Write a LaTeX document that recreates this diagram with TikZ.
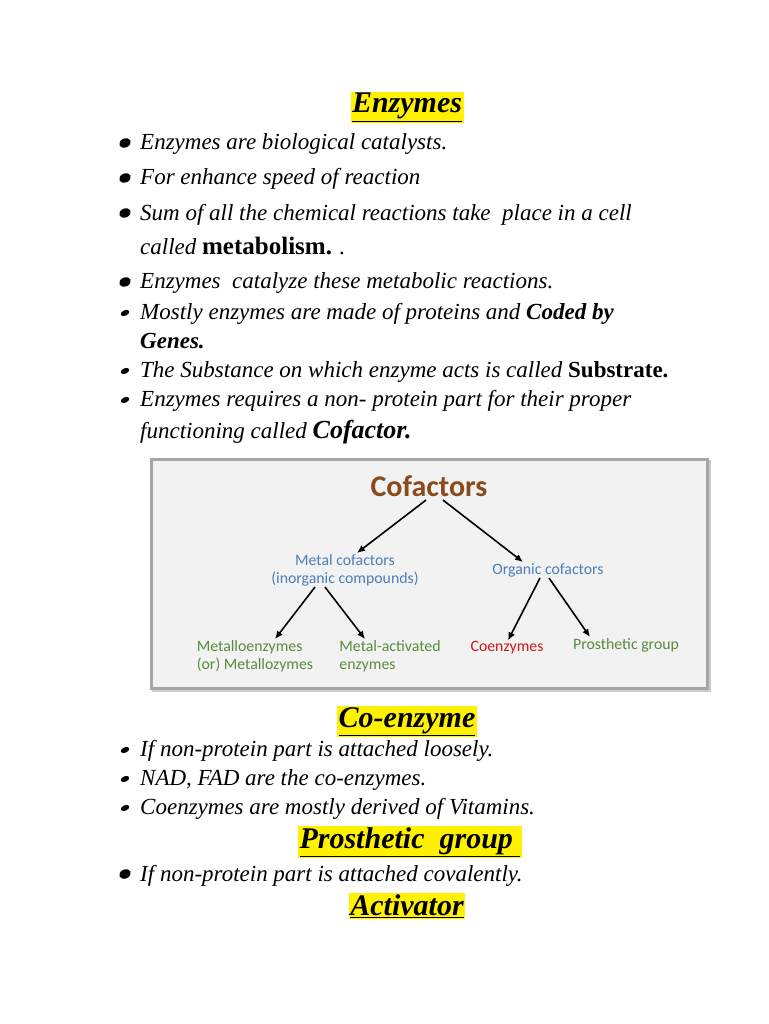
\documentclass[tikz,border=0pt]{standalone}
\usepackage{fontspec}
\setmainfont{Liberation Serif}
\newfontfamily\carlfont{Carlito}
\usetikzlibrary{arrows.meta}
\definecolor{boxbg}{HTML}{F2F2F2}
\definecolor{cofbrown}{HTML}{8B4A1C}
\definecolor{cofblue}{HTML}{4A7EBB}
\definecolor{cofgreen}{HTML}{5A8A3C}
\definecolor{cofred}{HTML}{D01818}
\begin{document}
\begin{tikzpicture}[x=1pt,y=-1pt,
  txt/.style={anchor=base west,inner sep=0pt,font=\fontsize{23}{26}\selectfont\itshape},
  ttl/.style={anchor=base,inner sep=1.5pt,fill=yellow,font=\fontsize{30}{34}\selectfont\bfseries\itshape},
  dg/.style={font=\carlfont\fontsize{15.8}{18}\selectfont,inner sep=1pt,align=center},
  arr/.style={-{Latex[length=8pt,width=7pt]},line width=1.6pt}]
\useasboundingbox[fill=white] (0,0) rectangle (768,1024);
\node[ttl] (t1) at (407,113) {\underline{Enzymes}};
% bullets
\foreach \y in {143,178,213,282} \fill (125,\y) ellipse [x radius=6pt,y radius=4.5pt,rotate=25];
\foreach \y in {313,371,400} \fill (125,\y) ellipse [x radius=4.5pt,y radius=2.7pt,rotate=25];
\node[txt] (l1) at (140,150) {Enzymes are biological catalysts.};
\node[txt] (l2) at (140,185) {For enhance speed of reaction};
\node[txt] (l3) at (140,221) {Sum of all the chemical reactions take\ \ place in a cell};
\node[txt] (l4) at (140,254) {called {\upshape\bfseries\fontsize{25}{28}\selectfont metabolism.} .};
\node[txt] (l5) at (140,288) {Enzymes\ \ catalyze these metabolic reactions.};
\node[txt] (l6) at (140,319) {Mostly enzymes are made of proteins and {\bfseries Coded by}};
\node[txt] (l7) at (140,348) {\bfseries Genes.};
\node[txt] (l8) at (140,377) {The Substance on which enzyme acts is called {\upshape\bfseries Substrate.}};
\node[txt] (l9) at (140,406) {Enzymes requires a non- protein part for their proper};
\node[txt] (l10) at (140,438) {functioning called {\bfseries\fontsize{26}{29}\selectfont Cofactor.}};
% cofactor box
\fill[gray!40] (152,460) rectangle (711,692);
\draw[gray!70,line width=3pt,fill=boxbg] (151,459) rectangle (707,688);
\node[font=\carlfont\bfseries\fontsize{30}{34}\selectfont,text=cofbrown] (cof) at (429,486) {Cofactors};
\node[dg,text=cofblue] (met) at (345,570) {Metal cofactors\\(inorganic compounds)};
\node[dg,text=cofblue] (org) at (548,570) {Organic cofactors};
\node[dg,text=cofgreen,align=left] (mz) at (255,656) {Metalloenzymes\\(or) Metallozymes};
\node[dg,text=cofgreen,align=left] (ma) at (390,656) {Metal-activated\\enzymes};
\node[dg,text=cofred] (co) at (507,648) {Coenzymes};
\node[dg,text=cofgreen] (pg) at (626,645) {Prosthetic group};
\draw[arr] ([xshift=-3pt]cof.south) -- ([xshift=12pt]met.north);
\draw[arr] ([xshift=14pt]cof.south) -- ([xshift=-25pt]org.north);
\draw[arr] ([xshift=-30pt]met.south) -- ([xshift=20pt]mz.north);
\draw[arr] ([xshift=-20pt]met.south) -- ([xshift=-25pt]ma.north);
\draw[arr] ([xshift=-8pt]org.south) -- ([xshift=1pt]co.north);
\draw[arr] ([xshift=1pt]org.south) -- ([xshift=-36pt]pg.north);
% co-enzyme
\node[ttl] (t2) at (407,727) {\underline{Co-enzyme}};
\foreach \y in {750,779,808} \fill (125,\y) ellipse [x radius=4.5pt,y radius=2.7pt,rotate=25];
\node[txt] (c1) at (140,756) {If non-protein part is attached loosely.};
\node[txt] (c2) at (140,785) {NAD, FAD are the co-enzymes.};
\node[txt] (c3) at (140,814) {Coenzymes are mostly derived of Vitamins.};
\node[ttl] (t3) at (410,848) {\underline{Prosthetic\ \ group\ }};
\fill (125,874) ellipse [x radius=6pt,y radius=4.5pt,rotate=25];
\node[txt] (p1) at (140,881) {If non-protein part is attached covalently.};
\node[ttl] (t4) at (407,915) {\underline{Activator}};
\end{tikzpicture}
\end{document}
